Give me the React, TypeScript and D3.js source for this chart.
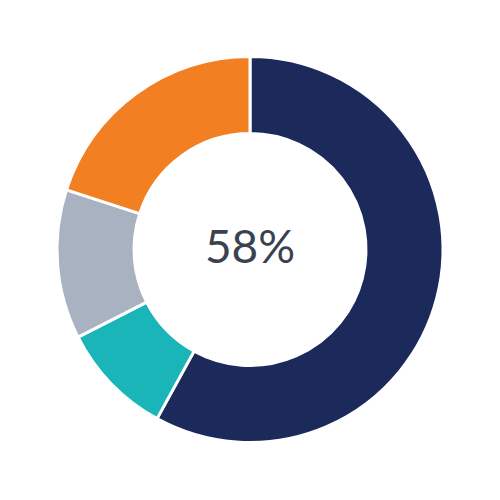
import * as d3 from "d3";

const labels = ["A", "B", "C", "D"];
const values = [58, 9.5, 12.5, 20];
const colors = ["#1b2a5a", "#1ab5b8", "#a9b2c0", "#f27f22"];
const centerLabel = "58%";

export default function App() {
  const width = 500;
  const height = 500;
  const outerR = 193;
  const innerR = 116;

  const pie = d3
    .pie<number>()
    .sort(null)
    .value((d) => d);
  const arc = d3.arc<d3.PieArcDatum<number>>().innerRadius(innerR).outerRadius(outerR);
  const arcs = pie(values);

  return (
    <svg
      width={width}
      height={height}
      style={{ position: "absolute", left: 0, top: 0, background: "#fff" }}
    >
      <g transform="translate(250,249.5)">
        {arcs.map((a, i) => (
          <path
            key={labels[i]}
            d={arc(a) || ""}
            fill={colors[i]}
            stroke="#fff"
            strokeWidth={3}
            strokeLinejoin="round"
          />
        ))}
        <text
          y={13}
          textAnchor="middle"
          fontFamily="Lato, 'Open Sans', sans-serif"
          fontSize={46}
          fill="#3a4250"
        >
          {centerLabel}
        </text>
      </g>
    </svg>
  );
}
